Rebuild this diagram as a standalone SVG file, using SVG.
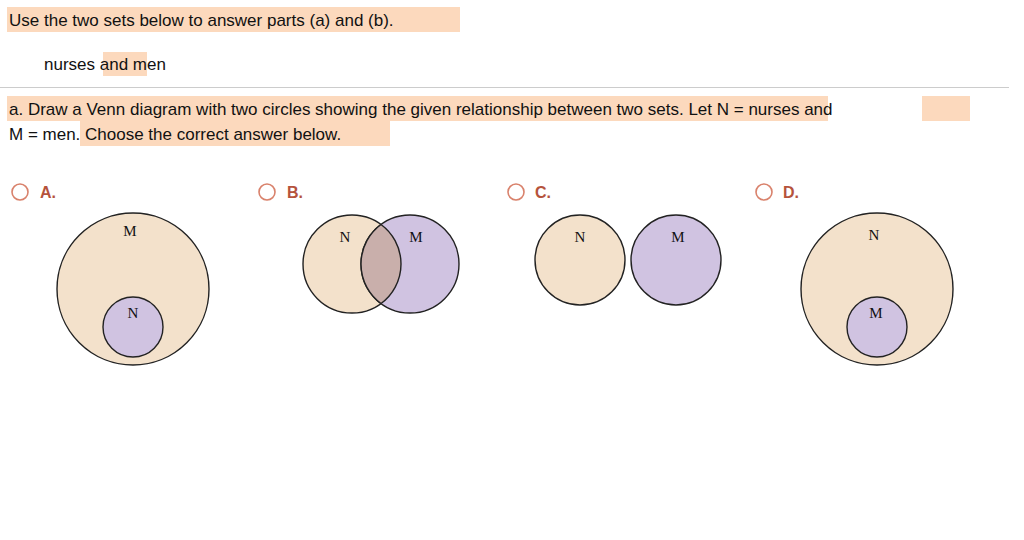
<svg xmlns="http://www.w3.org/2000/svg" width="1024" height="540" viewBox="0 0 1024 540">
<style>
.t{font-family:"Liberation Sans",Arial,sans-serif;font-size:17px;fill:#111}
.hl{fill:#fcd9bd}
.opt{font-family:"Liberation Sans",Arial,sans-serif;font-size:16px;font-weight:bold;fill:#b5533c}
.radio{fill:#fff;stroke:#d9826c;stroke-width:1.6}
.lab{font-family:"Liberation Serif","Times New Roman",serif;font-size:15px;fill:#111;text-anchor:middle}
.n{fill:#f3e1cb;stroke:#222;stroke-width:1.4}
.m{fill:#d0c3e1;stroke:#222;stroke-width:1.4}
</style>
<rect width="1024" height="540" fill="#fff"/>
<rect class="hl" x="7" y="7" width="453" height="25"/>
<text class="t" x="9" y="26">Use the two sets below to answer parts (a) and (b).</text>
<rect class="hl" x="103" y="52" width="44" height="24"/>
<text class="t" x="44" y="70">nurses and men</text>
<line x1="0" y1="87.5" x2="1009" y2="87.5" stroke="#ccc" stroke-width="1"/>
<rect class="hl" x="7" y="96" width="821" height="25"/>
<rect class="hl" x="922" y="96" width="48" height="25"/>
<rect class="hl" x="80" y="121" width="310" height="25"/>
<text class="t" x="9" y="115">a. Draw a Venn diagram with two circles showing the given relationship between two sets. Let N = nurses and</text>
<text class="t" x="9" y="140">M = men. Choose the correct answer below.</text>
<g id="optA">
<circle class="radio" cx="20" cy="192" r="8"/><text class="opt" x="40" y="198">A.</text>
<circle class="n" cx="133" cy="289" r="76"/><circle class="m" cx="133" cy="327" r="30"/>
<text class="lab" x="130" y="236">M</text><text class="lab" x="133" y="318">N</text>
</g>
<g id="optB">
<circle class="radio" cx="267" cy="192" r="8"/><text class="opt" x="287" y="198">B.</text>
<circle class="n" cx="352" cy="264" r="49"/>
<circle class="m" cx="410" cy="264" r="49"/>
<path d="M381,224.5 A49,49 0 0 1 381,303.5 A49,49 0 0 1 381,224.5 Z" fill="#c9afab" stroke="#222" stroke-width="1.4"/>
<text class="lab" x="345" y="242">N</text><text class="lab" x="416" y="242">M</text>
</g>
<g id="optC">
<circle class="radio" cx="516" cy="192" r="8"/><text class="opt" x="535" y="198">C.</text>
<circle class="n" cx="580" cy="260" r="45"/><circle class="m" cx="676" cy="260" r="45"/>
<text class="lab" x="580" y="242">N</text><text class="lab" x="678" y="242">M</text>
</g>
<g id="optD">
<circle class="radio" cx="764" cy="192" r="8"/><text class="opt" x="783" y="198">D.</text>
<circle class="n" cx="877" cy="289" r="76"/><circle class="m" cx="877" cy="327" r="30"/>
<text class="lab" x="874" y="240">N</text><text class="lab" x="876" y="318">M</text>
</g>
</svg>
